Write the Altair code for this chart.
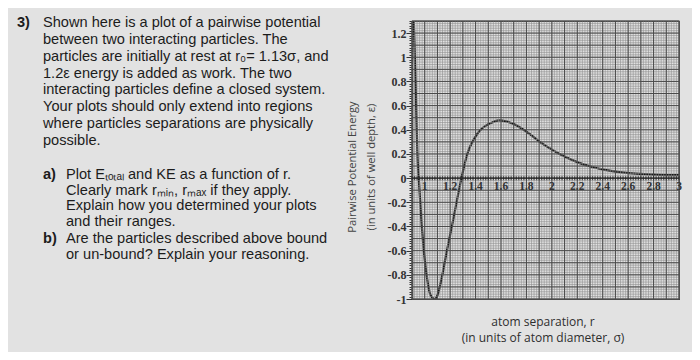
import altair as alt
import pandas as pd

# ---- curve (r in sigma, U in epsilon) ----
r_vals = [0.914, 0.929, 0.942, 0.953, 0.974, 0.995, 1.02, 1.04, 1.06, 1.079,
          1.10, 1.131, 1.171, 1.223, 1.289, 1.335, 1.37, 1.41, 1.45, 1.49,
          1.54, 1.585, 1.64, 1.695, 1.80, 1.905, 2.01, 2.116, 2.22, 2.325,
          2.43, 2.535, 2.69, 2.85, 3.0]
u_vals = [1.30, 0.76, 0.21, 0.0, -0.35, -0.62, -0.84, -0.95, -0.99, -1.0,
          -0.97, -0.84, -0.62, -0.35, 0.0, 0.20, 0.29, 0.36, 0.41, 0.44,
          0.465, 0.478, 0.47, 0.45, 0.385, 0.30, 0.23, 0.17, 0.124, 0.09,
          0.066, 0.05, 0.035, 0.027, 0.025]

x_tick_vals = [1, 1.2, 1.4, 1.6, 1.8, 2, 2.2, 2.4, 2.6, 2.8, 3]
x_tick_text = ["1", "1.2", "1.4", "1.6", "1.8", "2", "2.2", "2.4", "2.6", "2.8", "3"]

top_lines = [
    "Shown here is a plot of a pairwise potential",
    "between two interacting particles.  The",
    "particles are initially at rest at r\u2080= 1.13\u03c3, and",
    "1.2\u03b5 energy is added as work.  The two",
    "interacting particles define a closed system.",
    "Your plots should only extend into regions",
    "where particles separations are physically",
    "possible.",
]
a_lines = [
    "Plot E\u209c\u2092\u209c\u2090\u2097 and KE as a function of r.",
    "Clearly mark r\u2098\u1d62\u2099, r\u2098\u2090\u2093 if they apply.",
    "Explain how you determined your plots",
    "and their ranges.",
]
b_lines = [
    "Are the particles described above bound",
    "or un-bound?  Explain your reasoning.",
]

# ---- layout ----
W, H = 267, 278
XDOM = [0.9, 3.0]
YDOM = [-1.0, 1.3]
BG = "#e2e2e2"

xs = alt.Scale(domain=XDOM, nice=False, zero=False)
ys = alt.Scale(domain=YDOM, nice=False, zero=False)

minor_x = [round(0.9 + 0.02 * i, 2) for i in range(106)]
major_x = [round(0.9 + 0.1 * i, 1) for i in range(22)]
minor_y = [round(-1.0 + 0.02 * i, 2) for i in range(116)]
major_y = [round(-1.0 + 0.1 * i, 1) for i in range(24)]

one = pd.DataFrame({"a": [0]})


def txt(s, px, py, **kw):
    return alt.Chart(one).mark_text(text=s, **kw).encode(
        x=alt.value(px), y=alt.value(py))


is_major = "abs(datum.value*5 - round(datum.value*5)) < 0.001"

y_axis = alt.Axis(
    values=minor_y,
    labelExpr="(" + is_major + ") ? toString(round(datum.value*10)/10) : ''",
    tickSize={"condition": {"test": is_major, "value": 6}, "value": 3},
    grid=False, domain=True, domainColor="#222", domainWidth=1.5,
    tickColor="#333", tickWidth=1,
    labelFont="Liberation Serif", labelFontWeight="bold", labelFontSize=12,
    labelColor="#333", labelPadding=0, labelOverlap=False, title=None,
)

curve_df = pd.DataFrame({"r": r_vals, "u": u_vals})
curve = alt.Chart(curve_df).mark_line(
    color="#161616", strokeWidth=2.2, interpolate="monotone", clip=True
).encode(
    x=alt.X("r:Q", scale=xs, axis=None),
    y=alt.Y("u:Q", scale=ys, axis=y_axis),
)

gx_minor = alt.Chart(pd.DataFrame({"x": minor_x})).mark_rule(
    color="#8e8e8e", strokeWidth=0.6).encode(x=alt.X("x:Q", scale=xs, axis=None))
gy_minor = alt.Chart(pd.DataFrame({"y": minor_y})).mark_rule(
    color="#8e8e8e", strokeWidth=0.6).encode(y=alt.Y("y:Q", scale=ys, axis=y_axis))
gx_major = alt.Chart(pd.DataFrame({"x": major_x})).mark_rule(
    color="#4a4a4a", strokeWidth=1).encode(x=alt.X("x:Q", scale=xs, axis=None))
gy_major = alt.Chart(pd.DataFrame({"y": major_y})).mark_rule(
    color="#4a4a4a", strokeWidth=1).encode(y=alt.Y("y:Q", scale=ys, axis=y_axis))

zero_line = alt.Chart(one).mark_rule(color="#222", strokeWidth=1).encode(
    y=alt.YDatum(0, scale=ys, axis=y_axis))
zero_ticks = alt.Chart(pd.DataFrame({"x": minor_x})).mark_tick(
    orient="vertical", size=4, thickness=1.2, color="#222").encode(
    x=alt.X("x:Q", scale=xs, axis=None), y=alt.YDatum(0, scale=ys, axis=y_axis))

xl_df = pd.DataFrame({"v": x_tick_vals, "t": x_tick_text})
x_labels = alt.Chart(xl_df).mark_text(
    font="Liberation Serif", fontWeight="bold", fontSize=11.5, color="#333",
    dy=9, baseline="middle").encode(
    x=alt.X("v:Q", scale=xs, axis=None), y=alt.YDatum(0, scale=ys, axis=y_axis),
    text="t:N")

# ---- texts outside the plot (positions relative to plot origin) ----
OX, OY = 412, 21  # plot origin in page pixels
qfont = dict(font="Liberation Sans", fontSize=14.6, color="#1c1c1c",
             align="left", baseline="middle")
texts = [txt("3)", 17 - OX, 23.3 - OY, fontWeight="bold", **qfont)]
for i, s in enumerate(top_lines):
    texts.append(txt(s, 43 - OX, 23.3 + 16.77 * i - OY, **qfont))
texts.append(txt("a)", 43 - OX, 175 - OY, fontWeight="bold", **qfont))
for i, s in enumerate(a_lines):
    texts.append(txt(s, 66 - OX, 175 + 15.6 * i - OY, **qfont))
texts.append(txt("b)", 43 - OX, 239 - OY, fontWeight="bold", **qfont))
for i, s in enumerate(b_lines):
    texts.append(txt(s, 66 - OX, 239 + 15.6 * i - OY, **qfont))

tfont = dict(font="Open Sans", fontSize=11.2, color="#444444",
             align="center", baseline="middle")
texts.append(txt("Pairwise  Potential Energy", 353 - OX, 167 - OY, angle=270, **tfont))
texts.append(txt("(in units of well depth, \u03b5)", 372 - OX, 167 - OY, angle=270, **tfont))
xfont = dict(font="Open Sans", fontSize=12, color="#2e2e2e",
             align="center", baseline="middle")
texts.append(txt("atom separation, r", 543 - OX, 322 - OY, **xfont))
texts.append(txt("(in units of atom diameter, \u03c3)", 543 - OX, 338 - OY, **xfont))

chart = alt.layer(
    curve, gx_minor, gy_minor, gx_major, gy_major, zero_line, zero_ticks,
    x_labels, *texts
).properties(
    width=W, height=H,
    autosize=alt.AutoSizeParams(type="none"),
    padding={"left": OX - 8, "top": OY - 8, "right": 684 - (OX - 8) - W,
             "bottom": 344 - (OY - 8) - H},
    background=BG,
).configure_view(stroke="#333", strokeWidth=1.2)

chart.save("out.html", embed_options={"renderer": "svg", "actions": False})
